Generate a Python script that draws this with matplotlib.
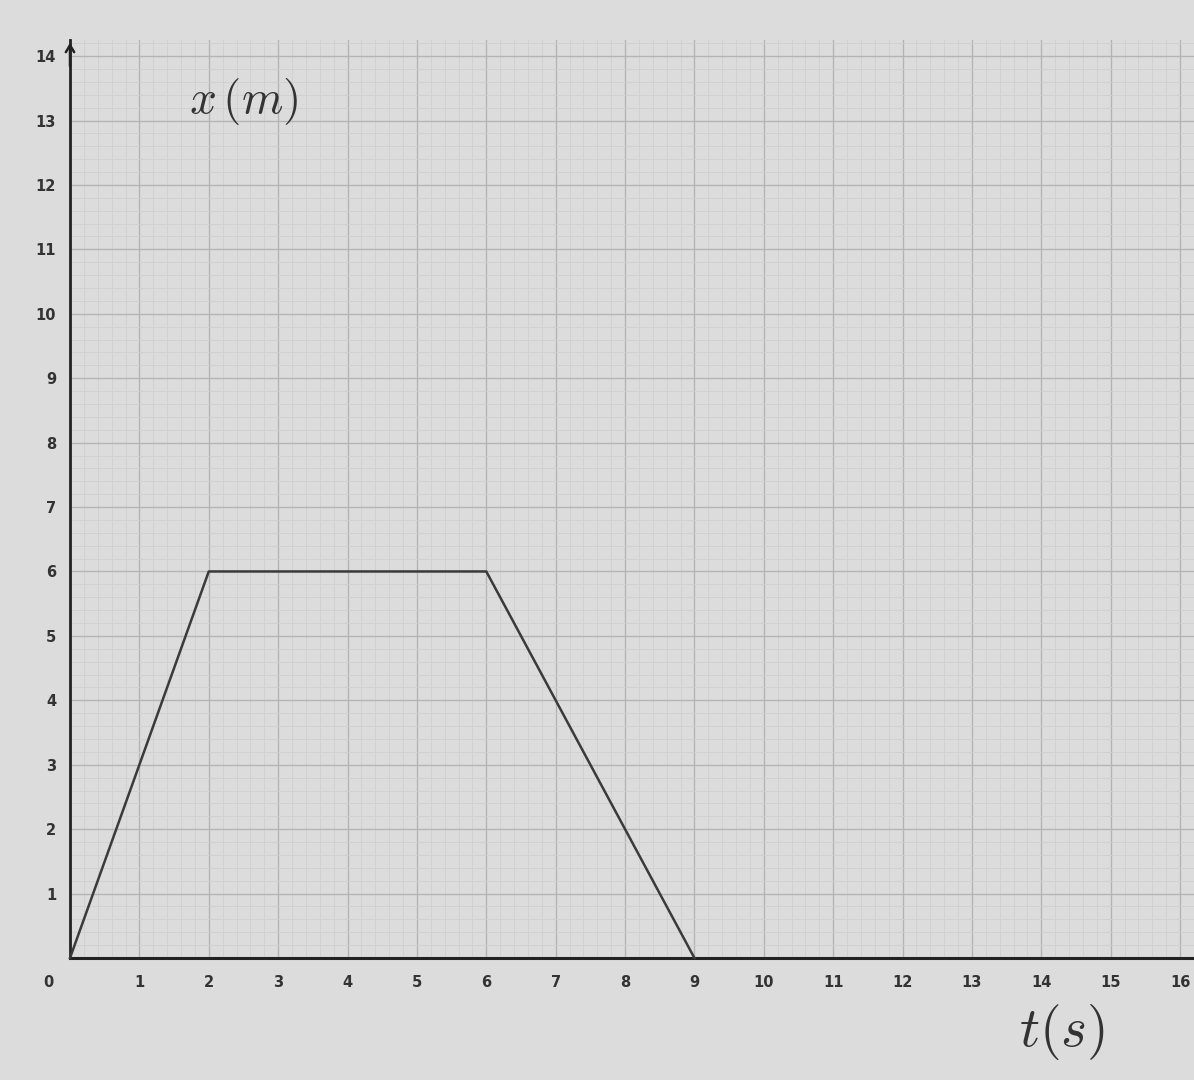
import numpy as np
import matplotlib
matplotlib.use("Agg")
import matplotlib.pyplot as plt
import matplotlib.transforms as mtransforms

# position-time data
t_pts = [0, 2, 6, 9]
x_pts = [0, 6, 6, 0]
x_ticks = list(range(0, 17))
y_ticks = list(range(1, 15))

plt.rcParams["mathtext.fontset"] = "cm"

fig = plt.figure(figsize=(11.94, 10.8), dpi=100)
fig.patch.set_facecolor("#dcdcdc")
ax = fig.add_axes([70 / 1194, 122 / 1080, 1124 / 1194, 918 / 1080])
ax.set_facecolor("#dcdcdc")
ax.set_xlim(0, 16.2)
ax.set_ylim(0, 14.25)

# grid: light minor lines every 0.2, darker major lines every unit
ax.set_xticks(np.arange(0, 16.3, 0.2), minor=True)
ax.set_yticks(np.arange(0, 14.3, 0.2), minor=True)
ax.grid(which="minor", color="#d0d0d0", lw=0.6)
ax.grid(which="major", color="#b4b4b4", lw=1.0)
ax.set_axisbelow(True)

ax.set_xticks(x_ticks)
ax.set_xticklabels([str(v) for v in x_ticks])
ax.set_yticks(y_ticks)
ax.set_yticklabels([str(v) for v in y_ticks])
ax.tick_params(which="both", length=0)
ax.tick_params(axis="x", pad=12, labelsize=10.5, labelcolor="#333333")
ax.tick_params(axis="y", pad=10, labelsize=10.5, labelcolor="#333333")
for lab in ax.get_xticklabels() + ax.get_yticklabels():
    lab.set_fontweight("bold")
# the "0" sits left of the origin
off = mtransforms.ScaledTranslation(-0.22, 0, fig.dpi_scale_trans)
first = ax.get_xticklabels()[0]
first.set_transform(first.get_transform() + off)

for side in ["top", "right"]:
    ax.spines[side].set_visible(False)
ax.spines["left"].set_linewidth(2.0)
ax.spines["bottom"].set_linewidth(2.2)
ax.spines["left"].set_color("#222222")
ax.spines["bottom"].set_color("#222222")

# arrow at top of the position axis
ax.annotate("", xy=(0, 14.25), xytext=(0, 13.8),
            arrowprops=dict(arrowstyle="->,head_width=0.3,head_length=0.5",
                            lw=1.8, color="#222222"),
            annotation_clip=False)

ax.plot(t_pts, x_pts, "-", color="#3a3a3a", lw=1.8, clip_on=False, zorder=5)

ax.text(2.5, 13.3, r"$x\,(m)$", fontsize=34, color="#333333",
        ha="center", va="center")
ax.text(14.3, -1.15, r"$t(s)$", fontsize=40, color="#333333",
        ha="center", va="center", clip_on=False)

fig.savefig("out.png", dpi=100, facecolor=fig.get_facecolor())
